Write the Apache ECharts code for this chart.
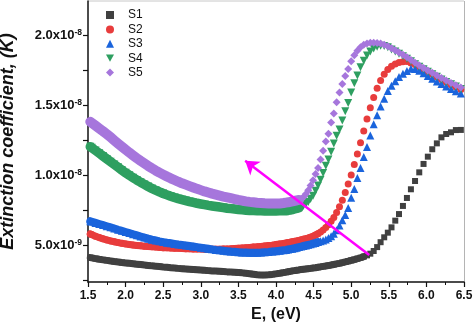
<!DOCTYPE html>
<html>
<head>
<meta charset="utf-8">
<script src="https://cdn.jsdelivr.net/npm/echarts@6/dist/echarts.min.js"></script>
<style>
  html, body { margin: 0; padding: 0; background: #fff; }
  #chart { width: 474px; height: 327px; }
</style>
</head>
<body>
<div id="chart"></div>
<script>
// Photon energy grid (eV) shared by all five samples
const energy = [
  1.53, 1.55, 1.60, 1.65, 1.70, 1.75, 1.80, 1.85, 1.90, 1.95,
  2.00, 2.05, 2.10, 2.15, 2.20, 2.25, 2.30, 2.35, 2.40, 2.45,
  2.50, 2.55, 2.60, 2.65, 2.70, 2.75, 2.80, 2.85, 2.90, 2.95,
  3.00, 3.05, 3.10, 3.15, 3.20, 3.25, 3.30, 3.35, 3.40, 3.45,
  3.50, 3.55, 3.60, 3.65, 3.70, 3.75, 3.80, 3.85, 3.90, 3.95,
  4.00, 4.05, 4.10,
  4.133, 4.161, 4.189, 4.218, 4.247, 4.276, 4.306, 4.336, 4.366, 4.397,
  4.429, 4.460, 4.493, 4.526, 4.559, 4.593, 4.627, 4.662, 4.697, 4.733,
  4.769, 4.806, 4.844, 4.882, 4.921, 4.960, 5.000, 5.041, 5.082, 5.124,
  5.167, 5.210, 5.254, 5.299, 5.345, 5.391, 5.439, 5.487, 5.536, 5.586,
  5.636, 5.688, 5.741, 5.794, 5.849, 5.905, 5.962, 6.019, 6.078, 6.139,
  6.200, 6.263, 6.327, 6.392, 6.458
];

// Extinction coefficient K, in units of 1e-9
const kS1 = [
  4.15, 4.13, 4.08, 4.03, 3.99, 3.95, 3.91, 3.87, 3.84, 3.80,
  3.77, 3.74, 3.71, 3.68, 3.65, 3.62, 3.59, 3.56, 3.54, 3.51,
  3.48, 3.46, 3.43, 3.41, 3.38, 3.36, 3.34, 3.32, 3.30, 3.28,
  3.26, 3.24, 3.22, 3.20, 3.19, 3.17, 3.15, 3.13, 3.12, 3.10,
  3.08, 3.06, 3.03, 3.00, 2.96, 2.92, 2.90, 2.90, 2.92, 2.95,
  2.99, 3.03, 3.08,
  3.11, 3.14, 3.17, 3.20, 3.22, 3.25, 3.27, 3.30, 3.32, 3.34,
  3.36, 3.38, 3.41, 3.43, 3.46, 3.49, 3.52, 3.55, 3.58, 3.62,
  3.66, 3.70, 3.74, 3.79, 3.84, 3.89, 3.95, 4.01, 4.07, 4.14,
  4.22, 4.31, 4.43, 4.62, 4.90, 5.25, 5.60, 5.93, 6.31, 6.79,
  7.26, 7.84, 8.41, 9.03, 9.62, 10.24, 10.84, 11.36, 11.89, 12.31,
  12.74, 12.98, 13.10, 13.26, 13.27
];

const kS2 = [
  5.84, 5.80, 5.68, 5.58, 5.49, 5.41, 5.34, 5.28, 5.22, 5.17,
  5.13, 5.09, 5.05, 5.02, 4.99, 4.96, 4.94, 4.92, 4.90, 4.88,
  4.86, 4.85, 4.83, 4.82, 4.81, 4.80, 4.79, 4.78, 4.77, 4.76,
  4.76, 4.75, 4.75, 4.75, 4.75, 4.75, 4.76, 4.77, 4.78, 4.80,
  4.82, 4.84, 4.86, 4.88, 4.90, 4.92, 4.95, 4.98, 5.01, 5.04,
  5.08, 5.12, 5.16,
  5.19, 5.22, 5.25, 5.28, 5.31, 5.34, 5.38, 5.42, 5.46, 5.50,
  5.55, 5.61, 5.68, 5.76, 5.86, 5.98, 6.12, 6.30, 6.50, 6.74,
  7.02, 7.38, 7.78, 8.25, 8.80, 9.40, 10.05, 10.80, 11.55, 12.35,
  13.20, 14.05, 14.85, 15.58, 16.25, 16.80, 17.25, 17.58, 17.82, 17.98,
  18.08, 18.14, 18.15, 18.05, 17.95, 17.78, 17.60, 17.42, 17.24, 17.05,
  16.87, 16.68, 16.50, 16.33, 16.15
];

const kS3 = [
  6.75, 6.72, 6.63, 6.55, 6.47, 6.39, 6.31, 6.23, 6.14, 6.06,
  5.98, 5.90, 5.82, 5.74, 5.66, 5.58, 5.50, 5.43, 5.37, 5.31,
  5.26, 5.21, 5.17, 5.13, 5.09, 5.06, 5.02, 4.98, 4.94, 4.90,
  4.86, 4.82, 4.78, 4.74, 4.70, 4.67, 4.64, 4.61, 4.58, 4.56,
  4.54, 4.52, 4.51, 4.50, 4.50, 4.50, 4.51, 4.53, 4.55, 4.58,
  4.61, 4.64, 4.67,
  4.70, 4.73, 4.76, 4.79, 4.82, 4.86, 4.90, 4.94, 4.98, 5.02,
  5.06, 5.10, 5.15, 5.20, 5.26, 5.32, 5.38, 5.45, 5.55, 5.67,
  5.86, 6.10, 6.45, 6.82, 7.20, 7.70, 8.42, 9.05, 9.83, 10.55,
  11.33, 12.05, 12.88, 13.68, 14.32, 14.95, 15.50, 16.05, 16.42, 16.75,
  17.05, 17.28, 17.48, 17.64, 17.63, 17.50, 17.32, 17.12, 16.93, 16.73,
  16.55, 16.37, 16.20, 16.03, 15.87
];

const kS4 = [
  12.07, 12.00, 11.80, 11.60, 11.40, 11.20, 11.00, 10.80, 10.60, 10.40,
  10.21, 10.03, 9.86, 9.69, 9.53, 9.38, 9.23, 9.09, 8.96, 8.84,
  8.73, 8.63, 8.53, 8.44, 8.36, 8.29, 8.22, 8.15, 8.09, 8.03,
  7.98, 7.93, 7.88, 7.84, 7.80, 7.76, 7.72, 7.68, 7.65, 7.62,
  7.59, 7.56, 7.54, 7.52, 7.51, 7.50, 7.49, 7.48, 7.48, 7.48,
  7.48, 7.49, 7.50,
  7.50, 7.52, 7.55, 7.58, 7.62, 7.66, 7.71, 7.78, 7.86, 7.97,
  8.13, 8.33, 8.57, 8.92, 9.30, 9.72, 10.20, 10.72, 11.15, 11.72,
  12.30, 12.85, 13.30, 13.95, 14.60, 15.20, 15.95, 16.60, 17.15, 17.75,
  18.22, 18.58, 18.88, 19.08, 19.22, 19.28, 19.26, 19.18, 19.02, 18.87,
  18.71, 18.54, 18.36, 18.17, 17.97, 17.78, 17.60, 17.42, 17.25, 17.06,
  16.88, 16.70, 16.53, 16.37, 16.20
];

const kS5 = [
  13.85, 13.78, 13.58, 13.38, 13.18, 12.97, 12.75, 12.52, 12.30, 12.08,
  11.86, 11.65, 11.45, 11.25, 11.06, 10.88, 10.70, 10.53, 10.37, 10.22,
  10.08, 9.94, 9.81, 9.69, 9.57, 9.46, 9.36, 9.26, 9.16, 9.06,
  8.97, 8.88, 8.80, 8.72, 8.65, 8.58, 8.51, 8.45, 8.39, 8.33,
  8.27, 8.22, 8.17, 8.13, 8.10, 8.07, 8.05, 8.03, 8.02, 8.01,
  8.01, 8.02, 8.05,
  8.08, 8.10, 8.13, 8.16, 8.20, 8.24, 8.27, 8.34, 8.48, 8.70,
  8.97, 9.30, 9.68, 10.12, 10.55, 11.15, 11.78, 12.45, 13.00, 13.80,
  14.45, 15.25, 15.95, 16.55, 17.12, 17.62, 18.18, 18.60, 18.92, 19.17,
  19.36, 19.45, 19.50, 19.50, 19.48, 19.44, 19.36, 19.24, 19.10, 18.96,
  18.80, 18.64, 18.46, 18.27, 18.07, 17.88, 17.70, 17.52, 17.35, 17.16,
  16.98, 16.80, 16.63, 16.47, 16.30
];

const sampleNames = ['S1', 'S2', 'S3', 'S4', 'S5'];
const K_UNIT = 1e-9;

// Axis ticks and labels
const xTicks = [1.5, 2.0, 2.5, 3.0, 3.5, 4.0, 4.5, 5.0, 5.5, 6.0, 6.5];
const yTickValues = [5e-9, 1e-8, 1.5e-8, 2e-8];
const yTickMantissa = ['5.0x10', '1.0x10', '1.5x10', '2.0x10'];
const yTickExponent = ['-9', '-8', '-8', '-8'];
const yMinorTicks = [2.5e-9, 5e-9, 7.5e-9, 1e-8, 1.25e-8, 1.5e-8, 1.75e-8, 2e-8];

// Trend arrow: start and tip in (eV, K)
const arrowStart = [5.24, 4.34e-9];
const arrowTip = [3.59, 1.107e-8];

// Styling
const FONT = '"Liberation Sans", Arial, Helvetica, sans-serif';
const colors = ['#404040', '#e83c3c', '#1a64dc', '#2e9f60', '#a676dc'];
const symbols = ['rect', 'circle', 'triangle', 'path://M0,0 L10,0 L5,9 Z', 'diamond'];
const sizes = [6, 7, 8, 8, 8];
// densely sampled low-energy stretch: markers merge into a solid band
const bandEnd = [5.17, 4.56, 4.56, 4.31, 4.31];
const bandWidth = [7, 7, 8, 9.5, 10];
const kSeries = [kS1, kS2, kS3, kS4, kS5];

const series = [];
kSeries.forEach((ks, i) => {
  const pts = energy.map((e, j) => [e, ks[j] * K_UNIT]);
  series.push({
    type: 'line',
    data: pts.filter(p => p[0] <= bandEnd[i]),
    showSymbol: false,
    symbol: 'none',
    smooth: false,
    lineStyle: { color: colors[i], width: bandWidth[i], cap: 'round', join: 'round', opacity: 1 },
    z: 2 + i,
    silent: true
  });
  series.push({
    name: sampleNames[i],
    type: 'scatter',
    data: pts,
    symbol: symbols[i],
    symbolSize: sizes[i],
    itemStyle: { color: colors[i], opacity: 1 },
    z: 2 + i,
    silent: true
  });
});

series.push({
  type: 'lines',
  coordinateSystem: 'cartesian2d',
  z: 20,
  silent: true,
  data: [{ coords: [arrowStart, arrowTip] }],
  lineStyle: { color: '#ff00ff', width: 2.5, opacity: 1, curveness: 0 },
  symbol: ['none', 'arrow'],
  symbolSize: 13
});

const chart = echarts.init(document.getElementById('chart'), null, { renderer: 'canvas' });
chart.setOption({
  animation: false,
  backgroundColor: '#ffffff',
  textStyle: { fontFamily: FONT },
  grid: {
    left: 88, right: 10, top: 1, bottom: 45,
    containLabel: false,
    outerBoundsMode: 'none',
    show: false
  },
  legend: {
    orient: 'vertical',
    left: 101,
    top: 3,
    itemWidth: 8,
    itemHeight: 8,
    itemGap: 0.4,
    data: sampleNames,
    textStyle: { fontFamily: FONT, fontSize: 12, color: '#111', lineHeight: 14, padding: [0, 0, 0, 9] },
    selectedMode: false
  },
  xAxis: {
    type: 'value',
    min: 1.5, max: 6.5, interval: 0.5,
    name: 'E, (eV)',
    nameLocation: 'middle',
    nameGap: 21,
    nameTextStyle: { fontFamily: FONT, fontSize: 16, fontWeight: 'bold', color: '#111' },
    axisLine: { show: true, onZero: false, lineStyle: { color: '#111', width: 1.5 } },
    axisTick: { show: true, inside: false, length: 5, lineStyle: { color: '#111', width: 1.2 } },
    minorTick: { show: true, splitNumber: 2, length: 3, lineStyle: { color: '#111', width: 1 } },
    splitLine: { show: false },
    minorSplitLine: { show: false },
    axisLabel: {
      margin: 8,
      fontFamily: FONT, fontSize: 12, fontWeight: 'bold', color: '#111',
      formatter: (v) => {
        const idx = xTicks.findIndex(t => Math.abs(t - v) < 1e-6);
        return idx >= 0 ? xTicks[idx].toFixed(1) : '';
      }
    }
  },
  yAxis: {
    type: 'value',
    min: 2.407e-9, max: 2.248e-8,
    name: 'Extinction coefficient, (K)',
    nameLocation: 'middle',
    nameGap: 71,
    nameTextStyle: { fontFamily: FONT, fontSize: 18, fontWeight: 'bold', fontStyle: 'italic', color: '#111' },
    axisLine: { show: true, onZero: false, lineStyle: { color: '#111', width: 1.5 } },
    axisTick: { show: true, inside: false, length: 5, customValues: yMinorTicks, lineStyle: { color: '#111', width: 1.2 } },
    splitLine: { show: false },
    axisLabel: {
      margin: 6,
      customValues: yTickValues,
      formatter: (v) => {
        const idx = yTickValues.findIndex(t => Math.abs(t - v) < 1e-12);
        if (idx < 0) return '';
        return '{m|' + yTickMantissa[idx] + '}{e|' + yTickExponent[idx] + '}';
      },
      rich: {
        m: { fontFamily: FONT, fontSize: 13, fontWeight: 'bold', color: '#111', lineHeight: 15 },
        e: { fontFamily: FONT, fontSize: 8.5, fontWeight: 'bold', color: '#111', verticalAlign: 'top', lineHeight: 15, padding: [0, 0, 6, 0] }
      }
    }
  },
  graphic: [
    // faint frame on the top and right
    { type: 'line', shape: { x1: 88, y1: 1, x2: 464, y2: 1 }, style: { stroke: '#c8c8c8', lineWidth: 1 }, silent: true },
    { type: 'line', shape: { x1: 464.5, y1: 1, x2: 464.5, y2: 282 }, style: { stroke: '#b4b4b4', lineWidth: 1 }, silent: true }
  ],
  series: series
});
</script>
</body>
</html>
